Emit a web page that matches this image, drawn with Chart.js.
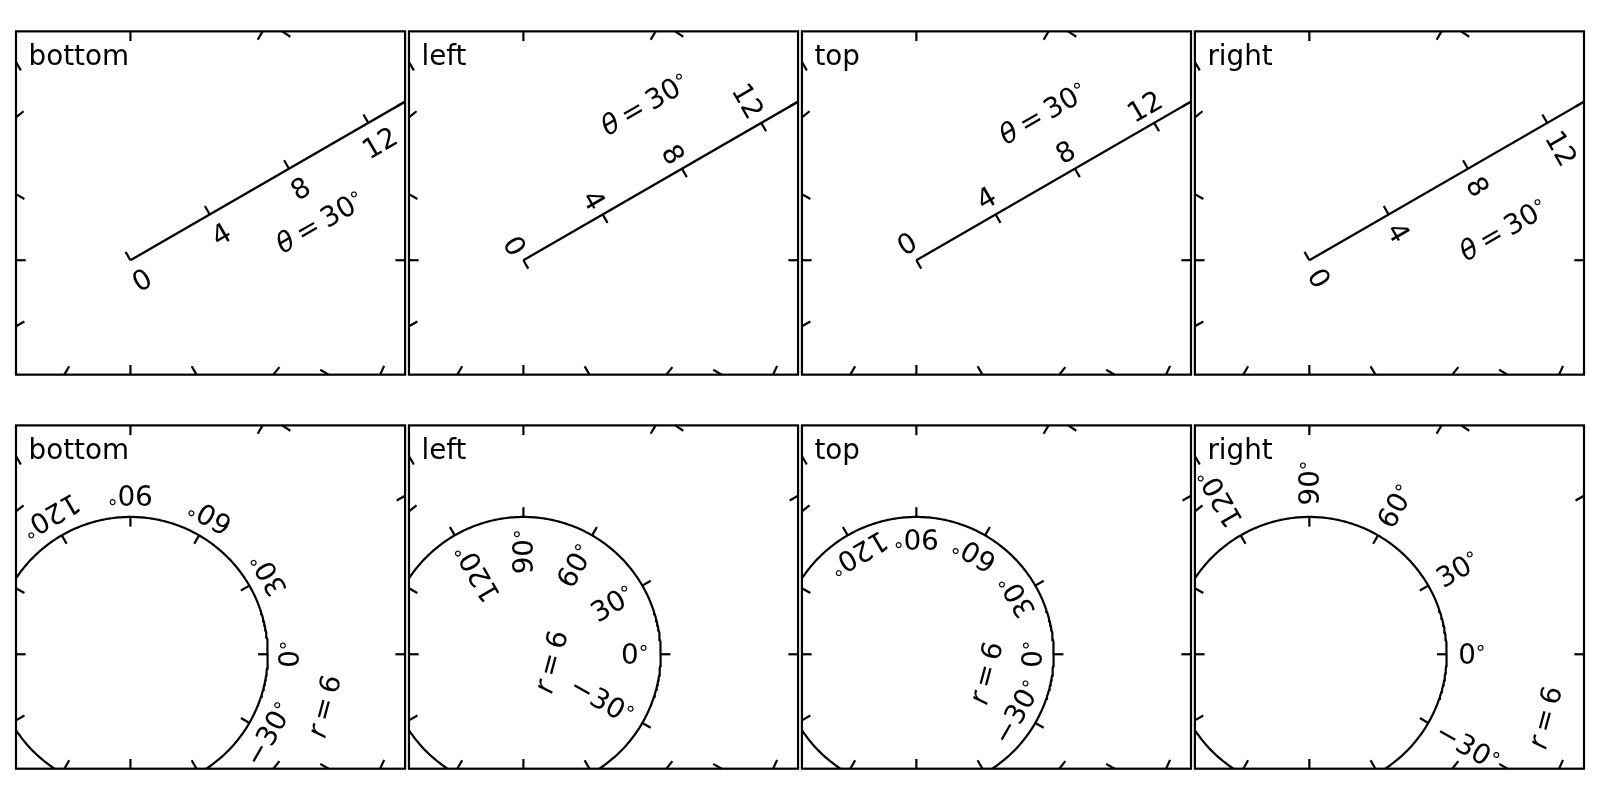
<!DOCTYPE html>
<html>
<head>
<meta charset="utf-8">
<script src="https://cdn.jsdelivr.net/npm/chart.js@4.4.1/dist/chart.umd.min.js"></script>
<style>
html, body { margin: 0; padding: 0; background: #fff; }
#wrap { position: relative; width: 1600px; height: 800px; overflow: hidden; background: #fff; }
canvas { position: absolute; }
</style>
</head>
<body>
<div id="wrap"></div>
<script>
// ---------------- data ----------------
const directions = ['bottom', 'left', 'top', 'right'];
const xLimits = [-5, 12];
const yLimits = [-5, 10];
const thetaGridDeg = [0, 30, 60, 90, 120, 150, 180, 210, 240, 270, 300, 330];
const rGrid = [4, 8, 12, 16];
const floatingTheta = 30;            // top row: floating axis at theta = 30 deg
const floatingR = 6;                 // bottom row: floating axis at r = 6
const radialTicks = [0, 4, 8, 12, 16];
const radialTickLabels = ['0', '4', '8', '12', '16'];
const radialExtent = [0, 16];
const angleTicks = [-150, -120, -90, -60, -30, 0, 30, 60, 90, 120, 150, 180];
const angleTickLabels = ['\u2212150', '\u2212120', '\u221290', '\u221260', '\u221230', '0', '30', '60', '90', '120', '150', '180'];
const angleExtent = [-180, 150];
const thetaAxisLabel = [{ t: '\u03b8', it: true }, { gap: 0.2 }, { t: '=' }, { gap: 0.2 }, { t: '30' }, { t: '\u2218', sup: true }];
const rAxisLabel = [{ t: 'r', it: true }, { gap: 0.2 }, { t: '=' }, { gap: 0.2 }, { t: '6' }];

// ---------------- layout / style ----------------
const FIG_LEFT = 16, COL_PITCH = 392.97, BOX_W = 389.08, BOX_H = 343.3;
const ROW_TOPS = [31.36, 425.4];
const PAD = 44;
const LW = 2.2, TICK = 9.7, FS = 27.8;
const FAMILY = '"DejaVu Sans", "Noto Sans", sans-serif';
const TICKLABEL_GAP = { bottom: [32.5, 31.5], top: [9.5, 12], left: [8, 12.5], right: [11.5, 11.5] };
const AXISLABEL_GAP = { bottom: [61, 62.5], left: [75, 109.6], top: [64.6, 66], right: [70, 106] };

const rad = d => d * Math.PI / 180;
const fontOf = (sz, it) => (it ? 'italic ' : '') + sz.toFixed(2) + 'px ' + FAMILY;

function layoutRich(ctx, segs, size) {
  let x = 0; const items = [];
  for (const s of segs) {
    if (s.gap !== undefined) { x += s.gap * size; continue; }
    if (s.sup) {
      const sz = size * 0.7;
      const f = fontOf(sz, false);
      ctx.font = f;
      const m = ctx.measureText(s.t);
      const inkW = m.actualBoundingBoxLeft + m.actualBoundingBoxRight;
      const gap = size * 0.06;
      const inkCenter = (m.actualBoundingBoxDescent - m.actualBoundingBoxAscent) / 2;
      items.push({ t: s.t, x: x + gap + m.actualBoundingBoxLeft, dy: -size * 0.6 - inkCenter, font: f });
      x += gap + inkW + size * 0.03;
    } else {
      const f = fontOf(size, s.it);
      ctx.font = f;
      items.push({ t: s.t, x: x, dy: 0, font: f });
      x += ctx.measureText(s.t).width;
    }
  }
  return { items, width: x };
}

function drawRich(ctx, segs, size, align, ax, ay, angle, baseDy) {
  ctx.save();
  ctx.translate(ax, ay);
  ctx.rotate(angle);
  const L = layoutRich(ctx, segs, size);
  const x0 = align === 'center' ? -L.width / 2 : (align === 'right' ? -L.width : 0);
  ctx.textAlign = 'left';
  ctx.textBaseline = 'alphabetic';
  ctx.fillStyle = '#000';
  for (const it of L.items) {
    ctx.font = it.font;
    ctx.fillText(it.t, x0 + it.x, baseDy + it.dy);
  }
  ctx.restore();
}

const inView = (X, Y) => X >= xLimits[0] - 1e-9 && X <= xLimits[1] + 1e-9 && Y >= yLimits[0] - 1e-9 && Y <= yLimits[1] + 1e-9;

const demoPlugin = {
  id: 'demo',
  afterDatasetsDraw(chart, args, opts) {
    const { ctx, chartArea: ca } = chart;
    const xs = chart.scales.x, ys = chart.scales.y;
    const row = opts.row, dir = opts.dir;
    const sx = xs.getPixelForValue(1) - xs.getPixelForValue(0);
    const sy = ys.getPixelForValue(1) - ys.getPixelForValue(0);
    const toPx = (X, Y) => [xs.getPixelForValue(X), ys.getPixelForValue(Y)];
    const pxDir = (dx, dy) => { const a = dx * sx, b = dy * sy; const n = Math.hypot(a, b); return [a / n, b / n]; };
    ctx.save();
    ctx.strokeStyle = '#000';
    ctx.lineWidth = LW;
    ctx.lineCap = 'butt';
    const seg = (p, d, len) => { ctx.beginPath(); ctx.moveTo(p[0], p[1]); ctx.lineTo(p[0] + d[0] * len, p[1] + d[1] * len); ctx.stroke(); };

    // frame ticks where the polar grid meets the box edges
    const edges = [
      { ax: 'x', c: xLimits[0], inw: [1, 0] }, { ax: 'x', c: xLimits[1], inw: [-1, 0] },
      { ax: 'y', c: yLimits[0], inw: [0, 1] }, { ax: 'y', c: yLimits[1], inw: [0, -1] }
    ];
    for (const e of edges) {
      for (const th of thetaGridDeg) {
        const dx = Math.cos(rad(th)), dy = Math.sin(rad(th));
        const comp = e.ax === 'x' ? dx : dy;
        if (Math.abs(comp) < 1e-9) continue;
        const t = e.c / comp;
        if (t <= 0) continue;
        const X = t * dx, Y = t * dy;
        if (!inView(X, Y)) continue;
        let s = dx * e.inw[0] + dy * e.inw[1];
        if (Math.abs(s) < 1e-9) continue;
        s = s > 0 ? 1 : -1;
        seg(toPx(X, Y), pxDir(s * dx, s * dy), TICK);
      }
      for (const r of rGrid) {
        const q = r * r - e.c * e.c;
        if (q < 0) continue;
        for (const sg of [1, -1]) {
          const o = sg * Math.sqrt(q);
          const X = e.ax === 'x' ? e.c : o, Y = e.ax === 'x' ? o : e.c;
          if (!inView(X, Y)) continue;
          const tx = -Y / r, ty = X / r;
          let s = tx * e.inw[0] + ty * e.inw[1];
          if (Math.abs(s) < 1e-6) continue;
          s = s > 0 ? 1 : -1;
          seg(toPx(X, Y), pxDir(s * tx, s * ty), TICK);
        }
      }
    }

    // floating axis
    const rightSide = (dir === 'bottom' || dir === 'right');
    const perpText = (dir === 'left' || dir === 'right');
    const tickVals = row === 0 ? radialTicks : angleTicks;
    const tickLabs = row === 0 ? radialTickLabels : angleTickLabels;
    const geom = v => {
      if (row === 0) {
        const a = rad(floatingTheta);
        return { X: v * Math.cos(a), Y: v * Math.sin(a), tx: Math.cos(a), ty: Math.sin(a) };
      }
      const a = rad(v);
      return { X: floatingR * Math.cos(a), Y: floatingR * Math.sin(a), tx: -Math.sin(a), ty: Math.cos(a) };
    };
    const gap = TICKLABEL_GAP[dir][row];
    tickVals.forEach((v, i) => {
      const g = geom(v);
      if (!inView(g.X, g.Y)) return;
      const p = toPx(g.X, g.Y);
      const nR = pxDir(g.ty, -g.tx), nL = pxDir(-g.ty, g.tx);
      const nLab = rightSide ? nR : nL, nTick = rightSide ? nL : nR;
      seg(p, nTick, TICK);
      const alpha = Math.atan2(g.ty, g.tx);
      const textA = perpText ? alpha - Math.PI / 2 : alpha;
      const segs = row === 0 ? [{ t: tickLabs[i] }] : [{ t: tickLabs[i] }, { t: '\u2218', sup: true }];
      const ax = p[0] + nLab[0] * gap, ay = p[1] + nLab[1] * gap;
      let align = 'center', bdy = 0;
      if (dir === 'left') { align = 'right'; bdy = FS * 0.36; }
      if (dir === 'right') { align = 'left'; bdy = FS * 0.36; }
      drawRich(ctx, segs, FS, align, ax, ay, -textA, bdy);
    });

    // axis label
    const mid = row === 0 ? (radialExtent[0] + radialExtent[1]) / 2 : (angleExtent[0] + angleExtent[1]) / 2;
    const g = geom(mid);
    const p = toPx(g.X, g.Y);
    const nR = pxDir(g.ty, -g.tx), nL = pxDir(-g.ty, g.tx);
    const n = rightSide ? nR : nL;
    const La = AXISLABEL_GAP[dir][row];
    const alpha = Math.atan2(g.ty, g.tx);
    drawRich(ctx, row === 0 ? thetaAxisLabel : rAxisLabel, FS, 'center', p[0] + n[0] * La, p[1] + n[1] * La, -alpha, FS * 0.36);

    // frame
    ctx.lineWidth = LW;
    ctx.strokeRect(ca.left, ca.top, ca.right - ca.left, ca.bottom - ca.top);

    // panel title
    ctx.font = fontOf(FS, false);
    ctx.fillStyle = '#000';
    ctx.textAlign = 'left';
    ctx.textBaseline = 'alphabetic';
    ctx.fillText(dir, ca.left + 12.5, ca.top + 34);
    ctx.restore();
  }
};

// dataset geometry
const thetaLinePts = radialExtent.map(r => ({ x: r * Math.cos(rad(floatingTheta)), y: r * Math.sin(rad(floatingTheta)) }));
const circlePts = [];
for (let d = 0; d <= 360; d += 1) circlePts.push({ x: floatingR * Math.cos(rad(d)), y: floatingR * Math.sin(rad(d)) });

const wrap = document.getElementById('wrap');
function makePanel(row, col) {
  const boxL = FIG_LEFT + col * COL_PITCH, boxT = ROW_TOPS[row];
  const cL = Math.floor(boxL) - PAD, cT = Math.floor(boxT) - PAD;
  const cR = Math.ceil(boxL + BOX_W) + PAD, cB = Math.ceil(boxT + BOX_H) + PAD;
  const canvas = document.createElement('canvas');
  const w = cR - cL, h = cB - cT;
  canvas.width = w; canvas.height = h;
  canvas.style.left = cL + 'px'; canvas.style.top = cT + 'px';
  canvas.style.width = w + 'px'; canvas.style.height = h + 'px';
  wrap.appendChild(canvas);
  const padding = { left: boxL - cL, top: boxT - cT, right: cR - (boxL + BOX_W), bottom: cB - (boxT + BOX_H) };
  new Chart(canvas, {
    type: 'scatter',
    data: {
      datasets: [{
        data: row === 0 ? thetaLinePts : circlePts,
        showLine: true, pointRadius: 0, pointHoverRadius: 0,
        borderColor: '#000', borderWidth: LW, fill: false, tension: 0
      }]
    },
    options: {
      responsive: false, animation: false, events: [],
      layout: { padding },
      scales: {
        x: { type: 'linear', min: xLimits[0], max: xLimits[1], display: false },
        y: { type: 'linear', min: yLimits[0], max: yLimits[1], display: false }
      },
      plugins: { legend: { display: false }, tooltip: { enabled: false }, demo: { row, dir: directions[col] } }
    },
    plugins: [demoPlugin]
  });
}
for (let row = 0; row < 2; row++) for (let col = 0; col < 4; col++) makePanel(row, col);
</script>
</body>
</html>
